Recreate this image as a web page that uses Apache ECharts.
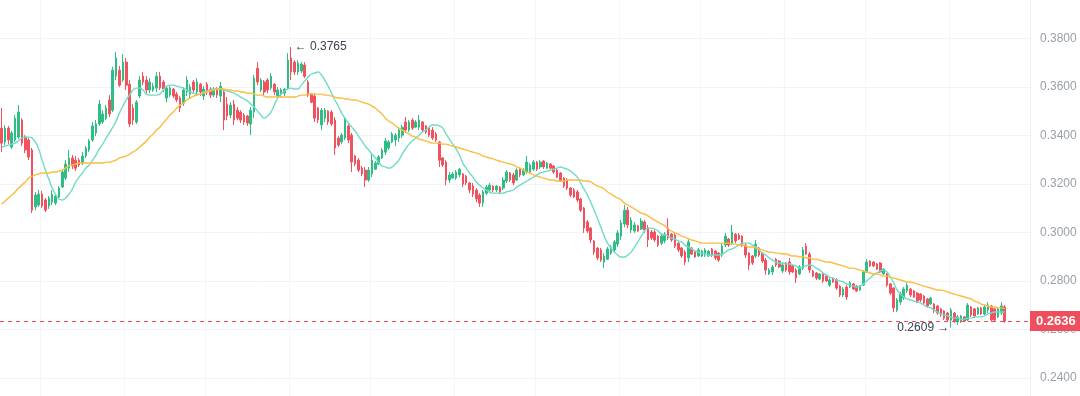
<!DOCTYPE html>
<html><head><meta charset="utf-8">
<script src="https://cdn.jsdelivr.net/npm/echarts/dist/echarts.min.js"></script>
<style>html,body{margin:0;padding:0;background:#fff}#c{width:1080px;height:396px}</style>
</head><body><div id="c"></div>
<script>
// [open, close, low, high]
const candles = [
[0.3431,0.3369,0.3332,0.3514],[0.3374,0.3431,0.3361,0.3444],[0.3431,0.3382,0.3365,0.3440],[0.3353,0.3411,0.3345,0.3419],[0.3382,0.3472,0.3374,0.3485],
[0.3394,0.3497,0.3386,0.3526],[0.3464,0.3369,0.3357,0.3472],[0.3394,0.3341,0.3328,0.3402],[0.3382,0.3312,0.3299,0.3390],[0.3341,0.3093,0.3081,0.3349],
[0.3106,0.3155,0.3093,0.3168],[0.3114,0.3159,0.3106,0.3176],[0.3159,0.3110,0.3102,0.3172],[0.3135,0.3093,0.3085,0.3143],[0.3110,0.3143,0.3098,0.3151],
[0.3126,0.3159,0.3114,0.3176],[0.3122,0.3151,0.3114,0.3159],[0.3147,0.3184,0.3139,0.3192],[0.3188,0.3250,0.3184,0.3258],[0.3225,0.3283,0.3217,0.3299],
[0.3266,0.3308,0.3250,0.3341],[0.3308,0.3275,0.3262,0.3320],[0.3299,0.3266,0.3254,0.3316],[0.3299,0.3279,0.3271,0.3308],[0.3287,0.3316,0.3279,0.3332],
[0.3316,0.3349,0.3308,0.3357],[0.3341,0.3378,0.3332,0.3386],[0.3382,0.3440,0.3374,0.3456],[0.3411,0.3448,0.3398,0.3464],[0.3448,0.3530,0.3440,0.3547],
[0.3456,0.3489,0.3448,0.3505],[0.3472,0.3514,0.3464,0.3526],[0.3547,0.3489,0.3477,0.3567],[0.3505,0.3670,0.3497,0.3683],[0.3645,0.3720,0.3629,0.3744],
[0.3670,0.3608,0.3600,0.3687],[0.3629,0.3703,0.3621,0.3736],[0.3703,0.3608,0.3588,0.3720],[0.3612,0.3448,0.3435,0.3629],[0.3514,0.3464,0.3444,0.3530],
[0.3456,0.3538,0.3448,0.3547],[0.3563,0.3629,0.3555,0.3645],[0.3645,0.3621,0.3608,0.3662],[0.3629,0.3588,0.3575,0.3645],[0.3588,0.3621,0.3575,0.3637],
[0.3588,0.3604,0.3580,0.3617],[0.3596,0.3645,0.3580,0.3662],
[0.3645,0.3596,0.3588,0.3662],[0.3621,0.3592,0.3580,0.3629],[0.3555,0.3596,0.3538,0.3604],[0.3567,0.3596,0.3559,0.3604],[0.3592,0.3563,0.3555,0.3596],
[0.3571,0.3547,0.3538,0.3580],[0.3555,0.3514,0.3497,0.3563],[0.3534,0.3588,0.3522,0.3600],[0.3580,0.3629,0.3563,0.3645],[0.3571,0.3600,0.3555,0.3612],
[0.3621,0.3588,0.3575,0.3629],[0.3580,0.3621,0.3563,0.3637],[0.3612,0.3580,0.3563,0.3617],[0.3563,0.3592,0.3547,0.3604],[0.3612,0.3580,0.3567,0.3621],
[0.3592,0.3567,0.3555,0.3600],[0.3567,0.3592,0.3559,0.3600],[0.3592,0.3567,0.3555,0.3600],[0.3563,0.3604,0.3538,0.3621],[0.3580,0.3464,0.3423,0.3588],
[0.3530,0.3481,0.3464,0.3559],[0.3485,0.3526,0.3472,0.3538],[0.3530,0.3464,0.3444,0.3547],[0.3505,0.3472,0.3464,0.3518],[0.3497,0.3464,0.3452,0.3505],
[0.3485,0.3456,0.3444,0.3493],[0.3481,0.3452,0.3440,0.3485],[0.3448,0.3505,0.3402,0.3518],[0.3497,0.3637,0.3472,0.3650],[0.3678,0.3621,0.3608,0.3703],
[0.3588,0.3629,0.3580,0.3637],[0.3621,0.3580,0.3567,0.3629],[0.3629,0.3588,0.3575,0.3637],[0.3596,0.3645,0.3588,0.3658],[0.3612,0.3580,0.3567,0.3617],
[0.3563,0.3588,0.3555,0.3600],[0.3571,0.3588,0.3559,0.3596],[0.3575,0.3592,0.3563,0.3596],[0.3596,0.3711,0.3588,0.3740],[0.3720,0.3662,0.3629,0.3765],
[0.3703,0.3662,0.3650,0.3711],[0.3662,0.3699,0.3650,0.3711],[0.3666,0.3695,0.3658,0.3703],[0.3691,0.3645,0.3637,0.3703],[0.3621,0.3567,0.3559,0.3629],
[0.3571,0.3538,0.3534,0.3575],[0.3563,0.3472,0.3456,0.3575],[0.3514,0.3464,0.3452,0.3518],[0.3444,0.3505,0.3423,0.3514],[0.3472,0.3505,0.3456,0.3514],
[0.3501,0.3456,0.3444,0.3505],
[0.3497,0.3448,0.3440,0.3505],[0.3464,0.3349,0.3320,0.3477],[0.3390,0.3361,0.3353,0.3398],[0.3374,0.3402,0.3365,0.3411],[0.3390,0.3464,0.3382,0.3477],
[0.3440,0.3382,0.3369,0.3448],[0.3402,0.3291,0.3250,0.3411],[0.3316,0.3283,0.3275,0.3320],[0.3299,0.3258,0.3250,0.3308],[0.3266,0.3242,0.3233,0.3275],
[0.3258,0.3217,0.3188,0.3271],[0.3217,0.3258,0.3209,0.3271],[0.3242,0.3299,0.3229,0.3328],[0.3262,0.3287,0.3258,0.3295],[0.3283,0.3312,0.3279,0.3320],
[0.3308,0.3341,0.3304,0.3349],[0.3332,0.3378,0.3320,0.3390],[0.3349,0.3374,0.3341,0.3382],[0.3374,0.3407,0.3369,0.3415],[0.3382,0.3402,0.3357,0.3411],
[0.3390,0.3423,0.3374,0.3431],[0.3402,0.3435,0.3390,0.3444],[0.3456,0.3423,0.3411,0.3477],[0.3423,0.3456,0.3415,0.3464],[0.3464,0.3431,0.3423,0.3472],
[0.3435,0.3456,0.3431,0.3464],[0.3435,0.3464,0.3423,0.3485],[0.3456,0.3423,0.3415,0.3460],[0.3440,0.3415,0.3407,0.3444],[0.3431,0.3402,0.3394,0.3435],
[0.3423,0.3390,0.3382,0.3435],[0.3407,0.3382,0.3374,0.3415],[0.3374,0.3299,0.3271,0.3378],[0.3308,0.3279,0.3271,0.3312],[0.3291,0.3217,0.3196,0.3299],
[0.3217,0.3238,0.3205,0.3250],[0.3225,0.3242,0.3223,0.3250],[0.3225,0.3250,0.3217,0.3258],[0.3238,0.3262,0.3229,0.3266],[0.3242,0.3200,0.3188,0.3246],
[0.3233,0.3205,0.3196,0.3238],[0.3205,0.3176,0.3163,0.3209],[0.3192,0.3159,0.3147,0.3205],[0.3176,0.3139,0.3126,0.3184],[0.3155,0.3122,0.3106,0.3163],
[0.3122,0.3168,0.3106,0.3176],[0.3163,0.3188,0.3155,0.3196],[0.3176,0.3196,0.3163,0.3205],[0.3192,0.3176,0.3168,0.3196],[0.3176,0.3192,0.3168,0.3196],
[0.3188,0.3168,0.3159,0.3192],
[0.3184,0.3217,0.3176,0.3229],[0.3213,0.3250,0.3205,0.3258],[0.3246,0.3217,0.3209,0.3250],[0.3238,0.3205,0.3196,0.3246],[0.3217,0.3258,0.3213,0.3266],
[0.3262,0.3238,0.3229,0.3266],[0.3238,0.3258,0.3233,0.3266],[0.3250,0.3291,0.3242,0.3316],[0.3250,0.3279,0.3242,0.3287],[0.3262,0.3291,0.3254,0.3299],
[0.3291,0.3262,0.3254,0.3295],[0.3271,0.3291,0.3262,0.3299],[0.3295,0.3271,0.3262,0.3299],[0.3266,0.3287,0.3262,0.3291],[0.3283,0.3266,0.3262,0.3287],
[0.3275,0.3250,0.3242,0.3279],[0.3258,0.3229,0.3225,0.3266],[0.3246,0.3213,0.3209,0.3250],[0.3225,0.3192,0.3184,0.3229],[0.3217,0.3184,0.3176,0.3225],
[0.3184,0.3155,0.3147,0.3188],[0.3176,0.3147,0.3143,0.3184],[0.3168,0.3135,0.3126,0.3176],[0.3139,0.3093,0.3085,0.3143],[0.3102,0.3019,0.2999,0.3106],
[0.3044,0.3007,0.2999,0.3052],[0.3019,0.2970,0.2957,0.3023],[0.2966,0.2920,0.2908,0.2970],[0.2937,0.2896,0.2887,0.2941],[0.2929,0.2887,0.2879,0.2937],
[0.2879,0.2904,0.2854,0.2916],[0.2891,0.2933,0.2887,0.2941],[0.2916,0.2941,0.2908,0.2949],[0.2929,0.2962,0.2916,0.2970],[0.2953,0.2999,0.2941,0.3011],
[0.2986,0.3040,0.2970,0.3052],[0.3036,0.3093,0.3023,0.3114],[0.3093,0.3032,0.3019,0.3106],[0.3011,0.3052,0.2999,0.3065],[0.3007,0.3032,0.2999,0.3044],
[0.3028,0.3007,0.3003,0.3032],[0.3015,0.3048,0.3011,0.3060],[0.3044,0.3011,0.2999,0.3052],[0.3019,0.2970,0.2941,0.3032],[0.3003,0.2978,0.2970,0.3011],
[0.3003,0.2970,0.2962,0.3011],[0.2986,0.2949,0.2941,0.2990],[0.2957,0.2986,0.2949,0.2999],[0.2966,0.2994,0.2957,0.3003],[0.3019,0.2978,0.2970,0.3060],
[0.2994,0.2970,0.2962,0.2999],
[0.2990,0.2945,0.2937,0.2999],[0.2957,0.2929,0.2920,0.2962],[0.2937,0.2904,0.2896,0.2941],[0.2920,0.2879,0.2867,0.2929],[0.2896,0.2962,0.2879,0.2978],
[0.2937,0.2912,0.2908,0.2941],[0.2924,0.2900,0.2896,0.2929],[0.2904,0.2929,0.2900,0.2937],[0.2904,0.2924,0.2900,0.2929],[0.2908,0.2929,0.2900,0.2937],
[0.2904,0.2924,0.2900,0.2929],[0.2933,0.2908,0.2900,0.2937],[0.2924,0.2896,0.2887,0.2929],[0.2916,0.2887,0.2879,0.2920],[0.2908,0.2945,0.2900,0.2957],
[0.2949,0.2986,0.2941,0.2999],[0.2974,0.2949,0.2941,0.2978],[0.2957,0.3003,0.2949,0.3032],[0.2994,0.2966,0.2957,0.2999],[0.2990,0.2974,0.2970,0.2999],
[0.2986,0.2949,0.2941,0.2990],[0.2949,0.2908,0.2896,0.2957],[0.2916,0.2867,0.2846,0.2920],[0.2904,0.2875,0.2867,0.2908],[0.2904,0.2953,0.2896,0.2970],
[0.2937,0.2908,0.2900,0.2941],[0.2916,0.2883,0.2875,0.2920],[0.2887,0.2846,0.2826,0.2896],[0.2830,0.2846,0.2826,0.2854],[0.2838,0.2859,0.2826,0.2867],
[0.2891,0.2867,0.2859,0.2896],[0.2883,0.2859,0.2854,0.2887],[0.2842,0.2867,0.2834,0.2875],[0.2875,0.2846,0.2838,0.2879],[0.2879,0.2838,0.2826,0.2896],
[0.2863,0.2838,0.2834,0.2867],[0.2846,0.2813,0.2793,0.2854],[0.2830,0.2859,0.2826,0.2867],[0.2854,0.2929,0.2846,0.2941],[0.2945,0.2912,0.2908,0.2957],
[0.2912,0.2846,0.2834,0.2920],[0.2842,0.2821,0.2817,0.2846],[0.2834,0.2813,0.2805,0.2838],[0.2809,0.2830,0.2805,0.2834],[0.2830,0.2801,0.2793,0.2834],
[0.2821,0.2801,0.2797,0.2826],[0.2784,0.2805,0.2776,0.2813],[0.2813,0.2797,0.2793,0.2817],[0.2805,0.2772,0.2764,0.2813],[0.2780,0.2743,0.2735,0.2784],
[0.2743,0.2768,0.2735,0.2776],[0.2776,0.2735,0.2723,0.2784],
[0.2776,0.2793,0.2772,0.2801],[0.2789,0.2768,0.2764,0.2793],[0.2780,0.2760,0.2756,0.2784],[0.2764,0.2780,0.2760,0.2784],[0.2784,0.2838,0.2780,0.2846],
[0.2838,0.2879,0.2834,0.2891],[0.2883,0.2863,0.2859,0.2887],[0.2879,0.2863,0.2859,0.2883],[0.2871,0.2850,0.2846,0.2875],[0.2875,0.2838,0.2834,0.2879],
[0.2830,0.2850,0.2826,0.2854],[0.2830,0.2784,0.2776,0.2834],[0.2789,0.2751,0.2743,0.2793],[0.2772,0.2690,0.2673,0.2776],[0.2681,0.2723,0.2673,0.2731],
[0.2714,0.2747,0.2702,0.2756],[0.2731,0.2768,0.2723,0.2776],[0.2760,0.2784,0.2751,0.2793],[0.2768,0.2743,0.2735,0.2772],[0.2760,0.2735,0.2731,0.2764],
[0.2751,0.2718,0.2710,0.2756],[0.2747,0.2723,0.2714,0.2751],[0.2739,0.2710,0.2702,0.2743],[0.2727,0.2698,0.2690,0.2731],[0.2706,0.2731,0.2702,0.2735],
[0.2706,0.2677,0.2669,0.2710],[0.2698,0.2669,0.2661,0.2702],[0.2686,0.2661,0.2653,0.2690],[0.2677,0.2648,0.2640,0.2681],[0.2669,0.2640,0.2632,0.2673],
[0.2640,0.2681,0.2609,0.2690],[0.2669,0.2636,0.2628,0.2673],[0.2632,0.2653,0.2620,0.2661],[0.2636,0.2657,0.2628,0.2661],[0.2653,0.2636,0.2632,0.2657],
[0.2640,0.2702,0.2636,0.2710],[0.2694,0.2661,0.2653,0.2698],[0.2686,0.2657,0.2648,0.2690],[0.2665,0.2690,0.2661,0.2694],[0.2690,0.2665,0.2661,0.2694],
[0.2665,0.2694,0.2661,0.2702],[0.2681,0.2702,0.2669,0.2714],[0.2698,0.2640,0.2632,0.2702],[0.2686,0.2640,0.2632,0.2690],[0.2653,0.2686,0.2648,0.2694],
[0.2669,0.2698,0.2661,0.2714],[0.2694,0.2636,0.2628,0.2702]
];
const maShort = [
0.3353,0.3357,0.3361,0.3365,0.3369,0.3378,0.3390,0.3394,0.3394,0.3390,
0.3374,0.3345,0.3299,0.3258,0.3221,0.3184,0.3159,0.3139,0.3135,0.3143,
0.3159,0.3180,0.3209,0.3229,0.3246,0.3266,0.3279,0.3299,0.3320,0.3345,
0.3365,0.3390,0.3411,0.3435,0.3460,0.3493,0.3522,0.3547,0.3567,0.3588,
0.3596,0.3596,0.3588,0.3571,0.3567,0.3567,0.3567,0.3571,0.3588,0.3604,
0.3608,0.3608,0.3604,0.3600,0.3596,0.3588,0.3580,0.3575,0.3571,0.3571,
0.3580,0.3584,0.3588,0.3592,0.3592,0.3592,0.3588,0.3584,0.3580,0.3575,
0.3567,0.3559,0.3551,0.3543,0.3530,0.3518,0.3501,0.3485,0.3472,0.3481,
0.3497,0.3526,0.3555,0.3571,0.3584,0.3592,0.3596,0.3592,0.3592,0.3608,
0.3625,0.3641,0.3654,0.3658,0.3662,0.3650,0.3629,0.3604,0.3575,0.3547,
0.3522,0.3493,0.3472,0.3452,0.3435,0.3419,0.3398,0.3378,0.3357,0.3341,
0.3324,0.3308,0.3291,0.3275,0.3271,0.3266,0.3271,0.3283,0.3299,0.3324,
0.3345,0.3365,0.3378,0.3390,0.3402,0.3415,0.3423,0.3435,0.3444,0.3444,
0.3440,0.3431,0.3407,0.3386,0.3365,0.3345,0.3320,0.3287,0.3266,0.3246,
0.3229,0.3209,0.3196,0.3184,0.3176,0.3168,0.3163,0.3163,0.3163,0.3163,
0.3168,0.3172,0.3176,0.3188,0.3196,0.3205,0.3213,0.3221,0.3229,0.3238,
0.3246,0.3250,0.3254,0.3258,0.3262,0.3266,0.3271,0.3266,0.3262,0.3254,
0.3242,0.3229,0.3205,0.3180,0.3155,0.3126,0.3093,0.3060,0.3023,0.2986,
0.2957,0.2937,0.2920,0.2908,0.2900,0.2900,0.2908,0.2920,0.2941,0.2962,
0.2986,0.3007,0.3019,0.3019,0.3015,0.3007,0.2994,0.2990,0.2986,0.2978,
0.2974,0.2966,0.2962,0.2949,0.2941,0.2933,0.2924,0.2920,0.2916,0.2912,
0.2908,0.2908,0.2908,0.2908,0.2912,0.2920,0.2929,0.2933,0.2941,0.2949,
0.2957,0.2957,0.2957,0.2949,0.2941,0.2929,0.2916,0.2908,0.2896,0.2887,
0.2879,0.2875,0.2875,0.2871,0.2871,0.2867,0.2863,0.2854,0.2859,0.2863,
0.2867,0.2863,0.2854,0.2846,0.2834,0.2826,0.2817,0.2813,0.2805,0.2801,
0.2797,0.2789,0.2784,0.2780,0.2776,0.2780,0.2789,0.2801,0.2813,0.2826,
0.2834,0.2842,0.2846,0.2838,0.2817,0.2793,0.2764,0.2747,0.2735,0.2727,
0.2723,0.2718,0.2714,0.2710,0.2702,0.2694,0.2690,0.2681,0.2673,0.2665,
0.2661,0.2657,0.2653,0.2648,0.2648,0.2644,0.2644,0.2648,0.2648,0.2653,
0.2653,0.2653,0.2657,0.2665,0.2669,0.2673,0.2673,0.2673,0.2673
];
const maLong = [
0.3118,0.3130,0.3143,0.3155,0.3168,0.3184,0.3196,0.3209,0.3225,0.3233,
0.3238,0.3242,0.3246,0.3246,0.3246,0.3250,0.3250,0.3254,0.3258,0.3266,
0.3275,0.3279,0.3283,0.3287,0.3287,0.3287,0.3287,0.3287,0.3287,0.3287,
0.3287,0.3291,0.3291,0.3295,0.3299,0.3308,0.3312,0.3316,0.3324,0.3332,
0.3341,0.3353,0.3365,0.3378,0.3394,0.3407,0.3423,0.3435,0.3452,0.3468,
0.3485,0.3497,0.3514,0.3526,0.3534,0.3547,0.3555,0.3563,0.3567,0.3571,
0.3575,0.3580,0.3584,0.3588,0.3592,0.3592,0.3592,0.3588,0.3588,0.3584,
0.3584,0.3580,0.3580,0.3575,0.3575,0.3571,0.3567,0.3567,0.3563,0.3559,
0.3559,0.3559,0.3559,0.3559,0.3559,0.3559,0.3559,0.3559,0.3563,0.3567,
0.3567,0.3571,0.3571,0.3571,0.3571,0.3571,0.3567,0.3567,0.3563,0.3559,
0.3555,0.3555,0.3551,0.3551,0.3547,0.3547,0.3543,0.3538,0.3534,0.3530,
0.3522,0.3514,0.3501,0.3489,0.3472,0.3460,0.3452,0.3440,0.3431,0.3423,
0.3415,0.3407,0.3398,0.3394,0.3386,0.3382,0.3378,0.3374,0.3369,0.3369,
0.3369,0.3365,0.3365,0.3361,0.3357,0.3353,0.3349,0.3345,0.3341,0.3336,
0.3332,0.3328,0.3324,0.3316,0.3312,0.3308,0.3304,0.3299,0.3295,0.3291,
0.3287,0.3283,0.3279,0.3271,0.3266,0.3258,0.3250,0.3246,0.3238,0.3233,
0.3229,0.3225,0.3221,0.3217,0.3217,0.3213,0.3213,0.3213,0.3217,0.3217,
0.3217,0.3217,0.3217,0.3213,0.3213,0.3209,0.3200,0.3192,0.3188,0.3180,
0.3168,0.3159,0.3151,0.3143,0.3135,0.3122,0.3114,0.3106,0.3098,0.3089,
0.3081,0.3077,0.3069,0.3060,0.3052,0.3044,0.3036,0.3028,0.3015,0.3007,
0.2999,0.2994,0.2986,0.2982,0.2974,0.2970,0.2966,0.2962,0.2957,0.2957,
0.2957,0.2957,0.2957,0.2957,0.2957,0.2957,0.2957,0.2953,0.2953,0.2949,
0.2949,0.2945,0.2941,0.2941,0.2937,0.2933,0.2929,0.2924,0.2920,0.2920,
0.2916,0.2916,0.2912,0.2912,0.2908,0.2904,0.2904,0.2900,0.2900,0.2896,
0.2896,0.2891,0.2891,0.2887,0.2883,0.2879,0.2879,0.2875,0.2871,0.2867,
0.2863,0.2859,0.2854,0.2854,0.2850,0.2846,0.2842,0.2838,0.2834,0.2830,
0.2830,0.2826,0.2821,0.2821,0.2817,0.2813,0.2809,0.2805,0.2801,0.2797,
0.2797,0.2793,0.2789,0.2784,0.2780,0.2776,0.2772,0.2768,0.2764,0.2764,
0.2760,0.2756,0.2751,0.2747,0.2743,0.2739,0.2735,0.2731,0.2727,0.2718,
0.2714,0.2706,0.2702,0.2698,0.2694,0.2694,0.2690,0.2690,0.2686
];
const slotCount = 306;              // category slots on the time axis (last few are empty)
const categories = [];
for (let i = 0; i < slotCount; i++) categories.push(String(i));
const tickMin = 0.24, tickMax = 0.38, tickStep = 0.02;
const viewMin = 0.2327, viewMax = 0.3959;
const lastClose = candles[candles.length - 1][1];

const upColor = '#2ebd85', downColor = '#f0525f';
const chart = echarts.init(document.getElementById('c'), null, {renderer: 'canvas'});
chart.setOption({
  animation: false,
  backgroundColor: '#ffffff',
  textStyle: {fontFamily: 'Arial, "Liberation Sans", "DejaVu Sans", sans-serif'},
  grid: [
    {left: 0, right: 50, top: 0, bottom: 0},
    {left: 0, right: 50, top: 38.5, bottom: 18}
  ],
  xAxis: [
    {type: 'category', gridIndex: 0, data: categories, boundaryGap: true,
     axisLine: {show: false}, axisTick: {show: false}, axisLabel: {show: false},
     splitLine: {show: true, interval: (i) => Math.floor((i - 12) / 24.5) !== Math.floor((i - 13) / 24.5),
                 lineStyle: {color: '#f4f5f7', width: 1}}},
    {type: 'value', gridIndex: 1, show: false, min: 0, max: 1}
  ],
  yAxis: [
    {type: 'value', gridIndex: 0, position: 'right', min: viewMin, max: viewMax, scale: true,
     axisLine: {show: true, lineStyle: {color: '#f0f1f3'}}, axisTick: {show: false},
     axisLabel: {show: false}, splitLine: {show: false}},
    {type: 'value', gridIndex: 1, position: 'right', min: tickMin, max: tickMax, interval: tickStep,
     axisLine: {show: false}, axisTick: {show: false},
     axisLabel: {show: true, margin: 10, color: '#9aa0a8', fontSize: 12, formatter: v => v.toFixed(4)},
     splitLine: {show: true, lineStyle: {color: '#f2f3f5', width: 1}}}
  ],
  series: [
    {type: 'candlestick', xAxisIndex: 0, yAxisIndex: 0, data: candles, barWidth: '62%',
     itemStyle: {color: upColor, color0: downColor, borderColor: upColor, borderColor0: downColor, borderWidth: 1},
     markPoint: {
       symbol: 'circle', symbolSize: 1, itemStyle: {color: 'rgba(0,0,0,0)'},
       label: {show: true, color: '#3d4250', fontSize: 12},
       data: [
         {type: 'max', valueDim: 'highest', label: {position: 'right', distance: 3, formatter: p => '\u2190 ' + Number(p.value).toFixed(4)}},
         {type: 'min', valueDim: 'lowest', label: {position: 'left', distance: 1, formatter: p => Number(p.value).toFixed(4) + ' \u2192'}}
       ]
     },
     markLine: {
       silent: true, symbol: ['none', 'none'], precision: 4,
       lineStyle: {color: '#ef4f5c', type: [4, 4], width: 1},
       label: {show: true, position: 'end', distance: 0, formatter: () => lastClose.toFixed(4),
               color: '#ffffff', backgroundColor: '#ef4f5c', fontSize: 13, fontWeight: 'bold',
               padding: [4, 6, 3, 6]},
       data: [{yAxis: lastClose}]
     }
    },
    {type: 'line', name: 'MA short', xAxisIndex: 0, yAxisIndex: 0, data: maShort, smooth: true, showSymbol: false,
     lineStyle: {color: '#6fdcc5', width: 1.4}, z: 3},
    {type: 'line', name: 'MA long', xAxisIndex: 0, yAxisIndex: 0, data: maLong, smooth: true, showSymbol: false,
     lineStyle: {color: '#fbbd42', width: 1.4}, z: 3}
  ]
});
</script>
</body></html>
